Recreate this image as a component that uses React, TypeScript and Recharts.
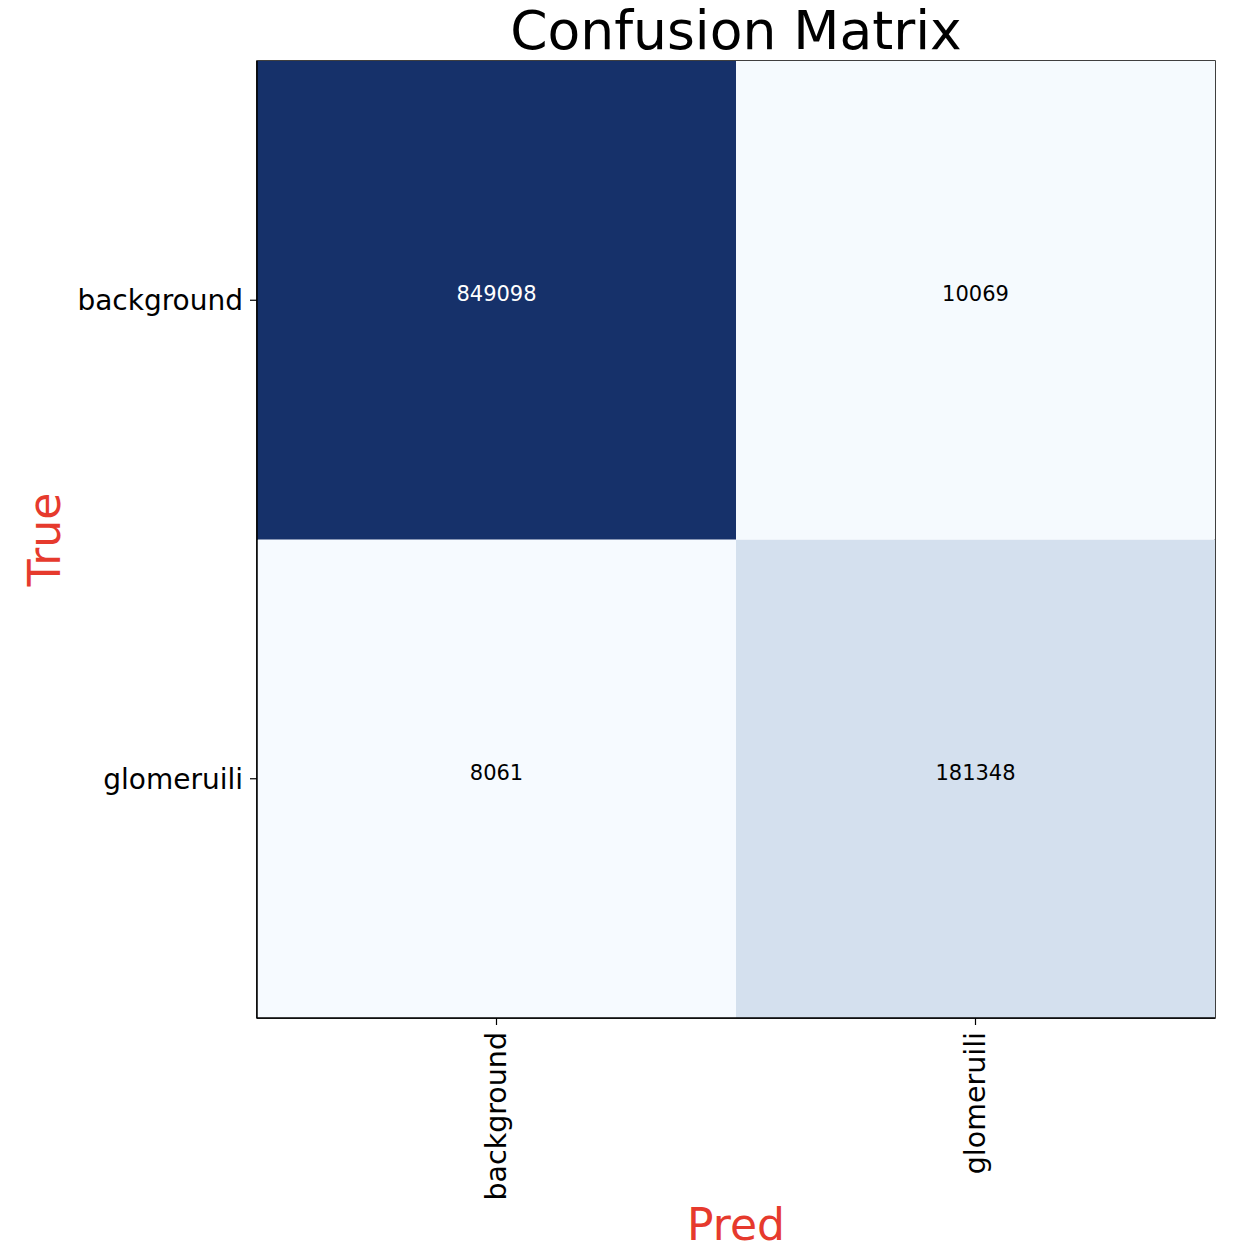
import React from 'react';
import { BarChart, Bar, XAxis, YAxis, Cell, LabelList, ReferenceArea } from 'recharts';

const predLabels = ['background', 'glomeruili'];
const trueLabels = ['background', 'glomeruili'];
// rows = true class, columns = predicted class
const rowBackground = [849098, 10069];
const rowGlomeruili = [8061, 181348];

const FONT = '"DejaVu Sans", Verdana, sans-serif';
const RED = '#e63a2d';

// "Blues"-like ramp, tuned to the tones seen in the picture
const blues = ['#f7fbff', '#e6eff9', '#cddaea', '#9ecae1', '#6baed6', '#4292c6', '#2171b5', '#08519c', '#16316a'];
const maxCount = Math.max(...rowBackground, ...rowGlomeruili);

const hex = (c: string) => [1, 3, 5].map(i => parseInt(c.slice(i, i + 2), 16));
const colorFor = (v: number) => {
  const t = Math.min(1, Math.max(0, v / maxCount)) * (blues.length - 1);
  const i = Math.min(Math.floor(t), blues.length - 2);
  const f = t - i;
  const a = hex(blues[i]);
  const b = hex(blues[i + 1]);
  const c = a.map((x, k) => Math.round(x + (b[k] - x) * f));
  return `rgb(${c[0]},${c[1]},${c[2]})`;
};

const chartData = predLabels.map((p, i) => ({
  pred: p,
  gl: 1,
  bg: 1,
  glCount: rowGlomeruili[i],
  bgCount: rowBackground[i],
}));

const CountLabel = (props: any) => {
  const { x, y, width, height, value } = props;
  return (
    <text
      x={x + width / 2}
      y={y + height / 2 - 6}
      textAnchor="middle"
      dominantBaseline="central"
      fontFamily={FONT}
      fontSize={21}
      fill={value > maxCount / 2 ? '#ffffff' : '#000000'}
    >
      {value}
    </text>
  );
};

const XTick = (props: any) => {
  const { x, y, payload } = props;
  return (
    <text
      x={x}
      y={y}
      transform={`rotate(-90, ${x}, ${y})`}
      textAnchor="end"
      dominantBaseline="central"
      fontFamily={FONT}
      fontSize={28.5}
      fill="#000"
    >
      {payload.value}
    </text>
  );
};

const XTitle = (props: any) => {
  const { viewBox } = props;
  return (
    <text x={viewBox.x + viewBox.width / 2} y={1240} textAnchor="middle" fontFamily={FONT} fontSize={44} fill={RED}>
      Pred
    </text>
  );
};

const YTitle = (props: any) => {
  const { viewBox } = props;
  const cy = viewBox.y + viewBox.height / 2;
  return (
    <text x={60} y={cy} transform={`rotate(-90, 60, ${cy})`} textAnchor="middle" fontFamily={FONT} fontSize={44} fill={RED}>
      True
    </text>
  );
};

export default function App() {
  return (
    <div style={{ position: 'absolute', left: 0, top: 0, width: 1248, height: 1252, background: '#fff' }}>
      <div
        style={{
          position: 'absolute',
          left: 257,
          top: 4,
          width: 958,
          textAlign: 'center',
          fontFamily: FONT,
          fontSize: 53.5,
          lineHeight: '53px',
          color: '#000',
        }}
      >
        Confusion Matrix
      </div>
      <BarChart
        width={1248}
        height={1252}
        data={chartData}
        margin={{ top: 61, right: 33, left: 0, bottom: 0 }}
        barCategoryGap={0}
        barGap={0}
      >
        <XAxis
          dataKey="pred"
          type="category"
          height={234}
          tickSize={7}
          tickMargin={7}
          axisLine={{ stroke: '#000', strokeWidth: 1.5 }}
          tickLine={{ stroke: '#000', strokeWidth: 1.2 }}
          tick={<XTick />}
          label={<XTitle />}
          interval={0}
        />
        <YAxis
          type="number"
          domain={[0, 2]}
          ticks={[0.5, 1.5]}
          width={257}
          tickSize={7}
          tickMargin={7}
          tickFormatter={(v: number) => (v > 1 ? trueLabels[0] : trueLabels[1])}
          tick={{ fontFamily: FONT, fontSize: 28, fill: '#000' }}
          axisLine={{ stroke: '#000', strokeWidth: 1.5 }}
          tickLine={{ stroke: '#000', strokeWidth: 1.2 }}
          label={<YTitle />}
          allowDataOverflow
        />
        <Bar dataKey="gl" stackId="cm" isAnimationActive={false}>
          {chartData.map((d, i) => (
            <Cell key={`gl-${i}`} fill={colorFor(d.glCount)} />
          ))}
          <LabelList dataKey="glCount" content={<CountLabel />} />
        </Bar>
        <Bar dataKey="bg" stackId="cm" isAnimationActive={false}>
          {chartData.map((d, i) => (
            <Cell key={`bg-${i}`} fill={colorFor(d.bgCount)} />
          ))}
          <LabelList dataKey="bgCount" content={<CountLabel />} />
        </Bar>
        <ReferenceArea
          x1={predLabels[0]}
          x2={predLabels[1]}
          y1={0}
          y2={2}
          fill="none"
          fillOpacity={0}
          stroke="#000"
          strokeWidth={1.5}
          strokeOpacity={1}
        />
      </BarChart>
    </div>
  );
}
